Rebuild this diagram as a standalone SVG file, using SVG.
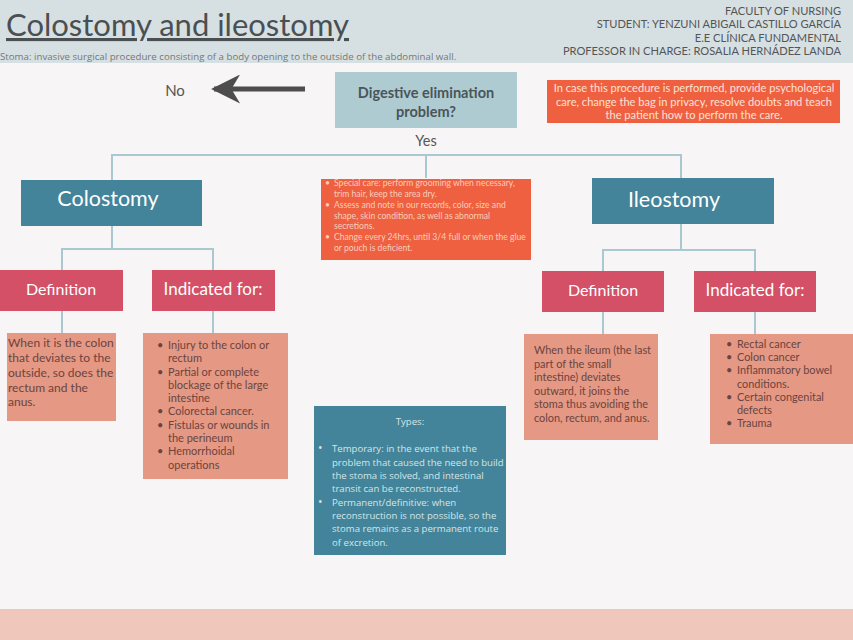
<svg xmlns="http://www.w3.org/2000/svg" width="853" height="640" viewBox="0 0 853 640">
<defs>
<style>
.bg{fill:#f7f5f5}
.hdr{fill:#d6e0e3}
.t{font-family:Lato,"Open Sans",sans-serif}
.os{font-family:"Open Sans",Lato,sans-serif}
.teal{fill:#43849a}
.red{fill:#d35066}
.sal{fill:#e59883}
.org{fill:#ef6040}
.conn{stroke:#a9c8d0;stroke-width:2;fill:none}
.wt{fill:#ffffff}
.brown{fill:#6b4440;font-size:11px}
.brown2{fill:#6b4440;font-size:10.9px}
.care{fill:#f8cdbd;font-size:8.6px}
.types{fill:#d3e4e9;font-size:9.6px}
</style>
<marker id="ah" viewBox="0 0 10 10" refX="9" refY="5" markerWidth="6.2" markerHeight="5.8" orient="auto" markerUnits="strokeWidth">
<path d="M0,0 L10,5 L0,10 L3,5 Z" fill="#4d4d4d"/>
</marker>
</defs>
<rect class="bg" x="0" y="0" width="853" height="640"/>
<rect class="hdr" x="0" y="0" width="853" height="63"/>
<rect x="0" y="609" width="853" height="31" fill="#efc8bb"/>

<g id="header">
<text class="t" x="6" y="36" font-size="31" fill="#4a4f52" text-decoration="underline">Colostomy and ileostomy</text>
<text class="os" x="0" y="60" font-size="9.7" fill="#777">Stoma: invasive surgical procedure consisting of a body opening to the outside of the abdominal wall.</text>
<g class="t" font-size="11.1" fill="#555" text-anchor="end">
<text x="841" y="15">FACULTY OF NURSING</text>
<text x="841" y="28">STUDENT: YENZUNI ABIGAIL CASTILLO GARCÍA</text>
<text x="841" y="42">E.E CLÍNICA FUNDAMENTAL</text>
<text x="841" y="55">PROFESSOR IN CHARGE: ROSALIA HERNÁDEZ LANDA</text>
</g>
</g>

<g id="connectors">
<line x1="305" y1="89" x2="214" y2="89" stroke="#4d4d4d" stroke-width="5" marker-end="url(#ah)"/>
<polyline class="conn" points="112,180 112,155 681,155 681,178"/>
<line class="conn" x1="426" y1="155" x2="426" y2="178"/>
<line class="conn" x1="112" y1="226" x2="112" y2="249"/>
<polyline class="conn" points="62,270 62,249 213,249 213,270"/>
<line class="conn" x1="62" y1="311" x2="62" y2="334"/>
<line class="conn" x1="213" y1="311" x2="213" y2="334"/>
<line class="conn" x1="681" y1="224" x2="681" y2="250"/>
<polyline class="conn" points="603,271 603,250 755,250 755,271"/>
<line class="conn" x1="603" y1="312" x2="603" y2="334"/>
<line class="conn" x1="755" y1="312" x2="755" y2="334"/>
</g>

<g id="no">
<text class="t" x="175" y="96" font-size="15" fill="#555" text-anchor="middle">No</text>
</g>

<g id="question">
<rect x="335" y="72" width="182" height="56" fill="#afcbd2"/>
<text class="t" x="426" y="98" font-size="14.5" font-weight="bold" fill="#4a5558" text-anchor="middle">Digestive elimination</text>
<text class="t" x="426" y="117" font-size="14.5" font-weight="bold" fill="#4a5558" text-anchor="middle">problem?</text>
</g>

<g id="yes">
<text class="t" x="426" y="146" font-size="14.5" fill="#555" text-anchor="middle">Yes</text>
</g>

<g id="note">
<rect class="org" x="547" y="80" width="293" height="43"/>
<g class="t" font-size="11.1" fill="#fbe0d6" text-anchor="middle">
<text x="694" y="92">In case this procedure is performed, provide psychological</text>
<text x="694" y="105.5">care, change the bag in privacy, resolve doubts and teach</text>
<text x="694" y="119">the patient how to perform the care.</text>
</g>
</g>

<g id="care">
<rect class="org" x="321" y="179" width="210" height="81"/>
<g class="t care">
<text x="325" y="186">•</text><text x="334" y="186">Special care: perform grooming when necessary,</text>
<text x="334" y="197">trim hair, keep the area dry.</text>
<text x="325" y="208">•</text><text x="334" y="208">Assess and note in our records, color, size and</text>
<text x="334" y="218.5">shape, skin condition, as well as abnormal</text>
<text x="334" y="229">secretions.</text>
<text x="325" y="240">•</text><text x="334" y="240">Change every 24hrs, until 3/4 full or when the glue</text>
<text x="334" y="250.5">or pouch is deficient.</text>
</g>
</g>

<g id="colostomy">
<rect class="teal" x="21" y="180" width="181" height="46"/>
<text class="t wt" x="108" y="206" font-size="21.5" text-anchor="middle">Colostomy</text>
</g>

<g id="ileostomy">
<rect class="teal" x="592" y="178" width="182" height="46"/>
<text class="t wt" x="674" y="207" font-size="21.5" text-anchor="middle">Ileostomy</text>
</g>

<g id="col-definition">
<rect class="red" x="0" y="270" width="123" height="41"/>
<text class="t wt" x="61" y="295" font-size="16" text-anchor="middle">Definition</text>
</g>

<g id="col-indicated">
<rect class="red" x="152" y="270" width="123" height="41"/>
<text class="t wt" x="213" y="295" font-size="17" text-anchor="middle">Indicated for:</text>
</g>

<g id="ile-definition">
<rect class="red" x="542" y="271" width="122" height="41"/>
<text class="t wt" x="603" y="296" font-size="16" text-anchor="middle">Definition</text>
</g>

<g id="ile-indicated">
<rect class="red" x="694" y="271" width="122" height="41"/>
<text class="t wt" x="755" y="296" font-size="17" text-anchor="middle">Indicated for:</text>
</g>

<g id="col-def-text">
<rect class="sal" x="7" y="333" width="109" height="88"/>
<g class="t" font-size="12" fill="#6b4440">
<text x="8" y="347">When it is the colon</text>
<text x="8" y="361.5">that deviates to the</text>
<text x="8" y="376.5">outside, so does the</text>
<text x="8" y="391.5">rectum and the</text>
<text x="8" y="406">anus.</text>
</g>
</g>

<g id="col-ind-text">
<rect class="sal" x="143" y="333" width="145" height="146"/>
<g class="t brown">
<text x="157" y="349">•</text><text x="168" y="349">Injury to the colon or</text>
<text x="168" y="362">rectum</text>
<text x="157" y="375.5">•</text><text x="168" y="375.5">Partial or complete</text>
<text x="168" y="389">blockage of the large</text>
<text x="168" y="402">intestine</text>
<text x="157" y="415">•</text><text x="168" y="415">Colorectal cancer.</text>
<text x="157" y="428.5">•</text><text x="168" y="428.5">Fistulas or wounds in</text>
<text x="168" y="442">the perineum</text>
<text x="157" y="455">•</text><text x="168" y="455">Hemorrhoidal</text>
<text x="168" y="468.5">operations</text>
</g>
</g>

<g id="ile-def-text">
<rect class="sal" x="524" y="334" width="134" height="106"/>
<g class="t brown2">
<text x="534" y="354">When the ileum (the last</text>
<text x="534" y="367.5">part of the small</text>
<text x="534" y="381">intestine) deviates</text>
<text x="534" y="394.5">outward, it joins the</text>
<text x="534" y="408">stoma thus avoiding the</text>
<text x="534" y="421.5">colon, rectum, and anus.</text>
</g>
</g>

<g id="ile-ind-text">
<rect class="sal" x="710" y="334" width="143" height="110"/>
<g class="t brown2">
<text x="726" y="348">•</text><text x="737" y="348">Rectal cancer</text>
<text x="726" y="361">•</text><text x="737" y="361">Colon cancer</text>
<text x="726" y="374">•</text><text x="737" y="374">Inflammatory bowel</text>
<text x="737" y="387.5">conditions.</text>
<text x="726" y="401">•</text><text x="737" y="401">Certain congenital</text>
<text x="737" y="414">defects</text>
<text x="726" y="427">•</text><text x="737" y="427">Trauma</text>
</g>
</g>

<g id="types">
<rect class="teal" x="314" y="406" width="192" height="149"/>
<g class="os types">
<text x="410" y="425" text-anchor="middle">Types:</text>
<text x="318" y="452" font-size="12">•</text><text x="332" y="452">Temporary: in the event that the</text>
<text x="332" y="465.5">problem that caused the need to build</text>
<text x="332" y="479">the stoma is solved, and intestinal</text>
<text x="332" y="492">transit can be reconstructed.</text>
<text x="318" y="505.5" font-size="12">•</text><text x="332" y="505.5">Permanent/definitive: when</text>
<text x="332" y="519">reconstruction is not possible, so the</text>
<text x="332" y="532">stoma remains as a permanent route</text>
<text x="332" y="545.5">of excretion.</text>
</g>
</g>
</svg>
